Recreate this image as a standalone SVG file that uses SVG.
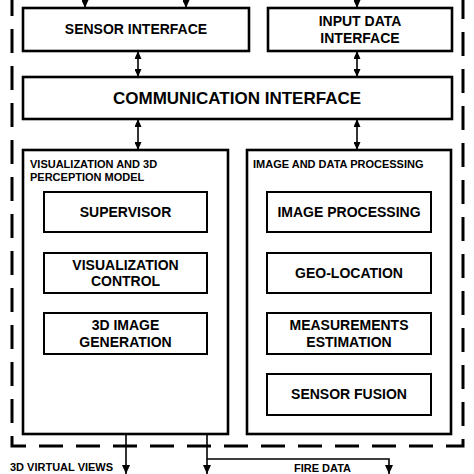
<svg xmlns="http://www.w3.org/2000/svg" width="474" height="474" viewBox="0 0 474 474">
<defs>
<marker id="ah" viewBox="0 0 8 7" refX="8" refY="3.5" markerWidth="8" markerHeight="7" markerUnits="userSpaceOnUse" orient="auto-start-reverse">
<path d="M0,0 L8,3.5 L0,7 z" fill="#000"/>
</marker>
<marker id="ahb" viewBox="0 0 9 8" refX="9" refY="4" markerWidth="9" markerHeight="8" markerUnits="userSpaceOnUse" orient="auto">
<path d="M0,0 L9,4 L0,8 z" fill="#000"/>
</marker>
</defs>
<style>
.box{fill:#fff;stroke:#000;stroke-width:2.6}
.sub{fill:#fff;stroke:#000;stroke-width:2}
.t{font-family:"Liberation Sans",Arial,sans-serif;font-weight:bold;fill:#000;text-anchor:middle}
.m{font-size:14px}
.s{font-size:11px;text-anchor:start}
.c{stroke:#000;stroke-width:1.6;fill:none}
.d{stroke:#000;stroke-width:3;fill:none;stroke-dasharray:24 13}
</style>
<rect width="474" height="474" fill="#fff"/>
<path class="d" d="M12,-8 V446 H463 V-8"/>
<g id="connectors">
<line class="c" x1="85" y1="-2" x2="85" y2="8" marker-end="url(#ah)"/>
<line class="c" x1="186" y1="-2" x2="186" y2="8" marker-end="url(#ah)"/>
<line class="c" x1="357" y1="-2" x2="357" y2="8" marker-end="url(#ah)"/>
<line class="c" x1="138" y1="51" x2="138" y2="77" marker-start="url(#ah)" marker-end="url(#ah)"/>
<line class="c" x1="357" y1="51" x2="357" y2="77" marker-start="url(#ah)" marker-end="url(#ah)"/>
<line class="c" x1="138" y1="119" x2="138" y2="150" marker-start="url(#ah)" marker-end="url(#ah)"/>
<line class="c" x1="357" y1="119" x2="357" y2="150" marker-start="url(#ah)" marker-end="url(#ah)"/>
<line class="c" x1="126" y1="435" x2="126" y2="474" stroke-width="2" marker-end="url(#ahb)"/>
<line class="c" x1="207" y1="435" x2="207" y2="474" stroke-width="2" marker-end="url(#ahb)"/>
<polyline class="c" points="207,459 389,459 389,474" marker-end="url(#ahb)"/>
</g>
<g id="sensor-interface">
<rect class="box" x="23" y="8" width="226" height="43"/>
<text class="t m" x="136" y="34">SENSOR INTERFACE</text>
</g>
<g id="input-data-interface">
<rect class="box" x="268" y="8" width="184" height="43"/>
<text class="t m" x="360" y="26">INPUT DATA</text>
<text class="t m" x="360" y="43">INTERFACE</text>
</g>
<g id="communication-interface">
<rect class="box" x="23" y="77" width="429" height="42"/>
<text class="t" x="237" y="104" font-size="17">COMMUNICATION INTERFACE</text>
</g>
<g id="visualization-model">
<rect class="box" x="23" y="150" width="205" height="284"/>
<text class="t s" x="30" y="168">VISUALIZATION AND 3D</text>
<text class="t s" x="30" y="181">PERCEPTION MODEL</text>
</g>
<g id="supervisor">
<rect class="sub" x="44" y="192" width="163" height="40"/>
<text class="t m" x="125.5" y="217">SUPERVISOR</text>
</g>
<g id="visualization-control">
<rect class="sub" x="44" y="253" width="163" height="40"/>
<text class="t m" x="125.5" y="270">VISUALIZATION</text>
<text class="t m" x="125.5" y="286">CONTROL</text>
</g>
<g id="image-generation">
<rect class="sub" x="44" y="313" width="163" height="41"/>
<text class="t m" x="125.5" y="330">3D IMAGE</text>
<text class="t m" x="125.5" y="347">GENERATION</text>
</g>
<g id="image-data-processing">
<rect class="box" x="247" y="150" width="204" height="284"/>
<text class="t s" x="253" y="168">IMAGE AND DATA PROCESSING</text>
</g>
<g id="image-processing">
<rect class="sub" x="267" y="192" width="164" height="40"/>
<text class="t m" x="349" y="217">IMAGE PROCESSING</text>
</g>
<g id="geo-location">
<rect class="sub" x="267" y="253" width="164" height="40"/>
<text class="t m" x="349" y="278">GEO-LOCATION</text>
</g>
<g id="measurements-estimation">
<rect class="sub" x="267" y="313" width="164" height="41"/>
<text class="t m" x="349" y="330">MEASUREMENTS</text>
<text class="t m" x="349" y="347">ESTIMATION</text>
</g>
<g id="sensor-fusion">
<rect class="sub" x="267" y="374" width="164" height="41"/>
<text class="t m" x="349" y="399">SENSOR FUSION</text>
</g>
<g id="outputs">
<text class="t s" x="10" y="471" font-size="11.5">3D VIRTUAL VIEWS</text>
<text class="t s" x="294" y="471.5" font-size="11.5">FIRE DATA</text>
</g>
</svg>
